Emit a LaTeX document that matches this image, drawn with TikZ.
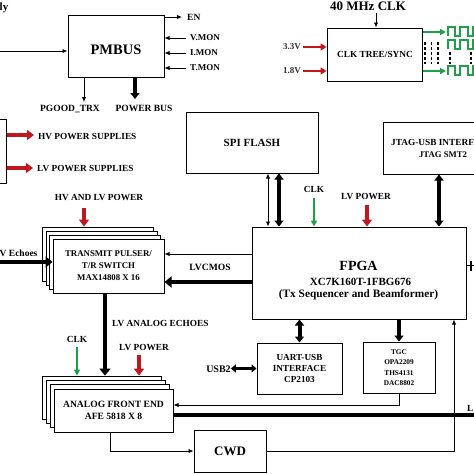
\documentclass[tikz,border=0pt]{standalone}
\usepackage{fontspec}
\setmainfont{Liberation Serif}
\usetikzlibrary{arrows.meta}
\definecolor{refred}{RGB}{192,24,32}
\definecolor{refgreen}{RGB}{30,160,72}
\begin{document}
\begin{tikzpicture}[x=1pt,y=-1pt,
  box/.style={draw, line width=1pt, fill=white, inner sep=0pt},
  lbl/.style={inner sep=0pt, font=\bfseries\fontsize{9.3}{12}\selectfont, align=center},
  arr/.style={line width=0.9pt, -{Latex[length=5pt,width=4.5pt]}},
  darr/.style={line width=0.9pt, {Latex[length=5pt,width=4.5pt]}-{Latex[length=5pt,width=4.5pt]}},
  tarr/.style={line width=4.5pt, -{Triangle[length=7pt,width=11pt]}},
  tdarr/.style={line width=4pt, {Triangle[length=6pt,width=9pt]}-{Triangle[length=6pt,width=9pt]}},
  redarr/.style={draw=refred, line width=4pt, -{Triangle[length=7pt,width=10pt]}},
  redthin/.style={draw=refred, line width=1.8pt, -{Triangle[length=6pt,width=7pt]}},
  grnarr/.style={draw=refgreen, line width=1.6pt, -{Triangle[length=6pt,width=6pt]}},
  wave/.style={draw=refgreen, line width=1.6pt},
  dsh/.style={line width=1.6pt, dash pattern=on 3pt off 2pt}]
\useasboundingbox (0,0) rectangle (474,474);

% ---- top left
\node[lbl, anchor=west, font=\bfseries\fontsize{11}{12}\selectfont] (ly) at (-0.5,8) {ly};
\node[box, minimum width=96pt, minimum height=62pt] (pmbus) at (116,46) {};
\node[lbl, font=\bfseries\fontsize{14.5}{16}\selectfont] (pmbust) at (116,50) {PMBUS};
\coordinate (pmin) at (0,51);
\draw[arr] (pmin) -- (pmin -| pmbus.west);

\coordinate (en) at (182,17);
\draw[arr] (en -| pmbus.east) -- (en);
\node[lbl, anchor=west, font=\bfseries\fontsize{9.5}{12}\selectfont] (ent) at (187,17) {EN};
\coordinate (vmon) at (186,38);
\coordinate (imon) at (186,53);
\coordinate (tmon) at (186,68);
\draw[arr] (vmon) -- (vmon -| pmbus.east);
\draw[arr] (imon) -- (imon -| pmbus.east);
\draw[arr] (tmon) -- (tmon -| pmbus.east);
\node[lbl, anchor=west, font=\bfseries\fontsize{9}{12}\selectfont] (vmont) at (190,38) {V.MON};
\node[lbl, anchor=west, font=\bfseries\fontsize{9}{12}\selectfont] (imont) at (190,53) {I.MON};
\node[lbl, anchor=west, font=\bfseries\fontsize{9}{12}\selectfont] (tmont) at (190,68) {T.MON};

\coordinate (pg) at (84,102);
\draw[arr] (pg |- pmbus.south) -- (pg);
\node[lbl, font=\bfseries\fontsize{9.5}{12}\selectfont] (pgt) at (70,109) {PGOOD\_TRX};
\coordinate (pb) at (135,99);
\draw[line width=4.5pt, -{Triangle[length=6pt,width=9pt]}] (pb |- pmbus.south) -- (pb);
\node[lbl, font=\bfseries\fontsize{9.5}{12}\selectfont] (pbt) at (144,108) {POWER BUS};

% ---- power supply box (cut off)
\node[box, minimum width=40pt, minimum height=64pt] (psu) at (-14,151) {};
\coordinate (hvps) at (34,135);
\coordinate (lvps) at (33,168);
\draw[redarr] (psu.east |- hvps) -- (hvps);
\draw[redarr] (psu.east |- lvps) -- (lvps);
\node[lbl, anchor=west, font=\bfseries\fontsize{9.3}{12}\selectfont] (hvpst) at (38,136) {HV POWER  SUPPLIES};
\node[lbl, anchor=west, font=\bfseries\fontsize{9.3}{12}\selectfont] (lvpst) at (37,168.5) {LV POWER  SUPPLIES};

% ---- clock tree
\node[box, minimum width=95pt, minimum height=53pt] (clk) at (374.5,54.5) {};
\node[lbl, font=\bfseries\fontsize{9.3}{12}\selectfont] (clkt) at (375,54) {CLK TREE/SYNC};
\node[lbl, font=\bfseries\fontsize{13}{14}\selectfont] (mhz) at (368,6) {40 MHz CLK};
\coordinate (clkin) at (376,13);
\draw[arr] (clkin) -- (clkin |- clk.north);
\node[lbl, anchor=east, text=black!80, font=\bfseries\fontsize{9}{12}\selectfont] (v33) at (301,47) {3.3V};
\node[lbl, anchor=east, text=black!80, font=\bfseries\fontsize{9}{12}\selectfont] (v18) at (301,71) {1.8V};
\coordinate (v33a) at (303,47);
\coordinate (v18a) at (303,71);
\draw[redthin] (v33a) -- (v33a -| clk.west);
\draw[redthin] (v18a) -- (v18a -| clk.west);
\coordinate (co1) at (446,32);
\coordinate (co2) at (446,71);
\draw[grnarr] (co1 -| clk.east) -- (co1);
\draw[grnarr] (co2 -| clk.east) -- (co2);
\draw[wave] (448,36) -- ++(0,-9) -- ++(7,0) -- ++(0,9) -- ++(5,0) -- ++(0,-9) -- ++(8,0) -- ++(0,9) -- ++(5,0) -- ++(0,-9) -- ++(8,0);
\draw[wave] (448,49) -- ++(0,-9) -- ++(7,0) -- ++(0,9) -- ++(5,0) -- ++(0,-9) -- ++(8,0) -- ++(0,9) -- ++(5,0) -- ++(0,-9) -- ++(8,0);
\draw[wave] (448,75) -- ++(0,-9) -- ++(7,0) -- ++(0,9) -- ++(5,0) -- ++(0,-9) -- ++(8,0) -- ++(0,9) -- ++(5,0) -- ++(0,-9) -- ++(8,0);
\draw[dsh] (425,42) -- (425,64);
\draw[dsh] (431.5,42) -- (431.5,64);
\draw[dsh] (438,42) -- (438,64);
\draw[dsh] (450,52) -- (450,64);
\draw[dsh] (471,52) -- (471,64);

% ---- SPI flash, JTAG
\node[box, minimum width=132pt, minimum height=61pt] (spi) at (252,142.5) {};
\node[lbl, font=\bfseries\fontsize{11}{12}\selectfont] (spit) at (252,143) {SPI FLASH};
\node[box, minimum width=117pt, minimum height=52pt] (jtag) at (441.5,148) {};
\node[lbl, anchor=west, font=\bfseries\fontsize{9.3}{12}\selectfont] (jtagt1) at (391,142.5) {JTAG-USB  INTERFACE};
\node[lbl, font=\bfseries\fontsize{8.7}{12}\selectfont] (jtagt2) at (443,154.5) {JTAG SMT2};

% ---- FPGA
\node[box, minimum width=214pt, minimum height=92pt] (fpga) at (359,273) {};
\node[lbl, font=\bfseries\fontsize{14}{16}\selectfont] (fpgat1) at (358.5,266) {FPGA};
\node[lbl, font=\bfseries\fontsize{11}{13}\selectfont] (fpgat2) at (360.5,281.5) {XC7K160T-1FBG676};
\node[lbl, font=\bfseries\fontsize{11.3}{13}\selectfont] (fpgat3) at (358.5,295) {(Tx Sequencer and Beamformer)};

\draw[darr] (spi.south -| 268,0) -- (fpga.north -| 268,0);
\draw[tdarr] (spi.south -| 279,0) -- (fpga.north -| 279,0);
\draw[tdarr] (jtag.south -| 439,0) -- (fpga.north -| 439,0);
\node[lbl, font=\bfseries\fontsize{9.3}{12}\selectfont] (clk2t) at (314,189) {CLK};
\coordinate (clk2) at (314,198);
\draw[grnarr] (clk2) -- (clk2 |- fpga.north);
\node[lbl, font=\bfseries\fontsize{9.3}{12}\selectfont] (lvp1t) at (366,196.5) {LV POWER};
\coordinate (lvp1) at (367,205);
\draw[redarr] (lvp1) -- (lvp1 |- fpga.north);
\coordinate (fstub) at (474,265);
\draw[line width=1pt] (fpga.east |- fstub) -- (fstub);
\draw[line width=2pt] (471,261) -- (471,271);

% ---- transmit pulser (stacked)
\node[box, minimum width=111pt, minimum height=54pt] (pul3) at (98,254) {};
\node[box, minimum width=111pt, minimum height=54pt] (pul2) at (101.5,258) {};
\node[box, minimum width=111pt, minimum height=54pt] (pul1) at (105,262) {};
\node[box, minimum width=111pt, minimum height=54pt] (pul) at (108.5,266) {};
\node[lbl, font=\bfseries\fontsize{8.8}{12}\selectfont] (pult) at (108.5,266) {TRANSMIT PULSER/\\T/R SWITCH\\MAX14808 X 16};
\node[lbl, font=\bfseries\fontsize{9.3}{12}\selectfont] (hvlvt) at (99,197) {HV AND LV POWER};
\coordinate (hvlv) at (84,208);
\draw[redarr] (hvlv) -- (hvlv |- pul3.north);
\node[lbl, anchor=west, font=\bfseries\fontsize{9.5}{12}\selectfont] (echt) at (-0.5,253) {V Echoes};
\coordinate (echin) at (0,262);
\draw[tarr] (echin) -- (echin -| pul.west);
\coordinate (lvc1) at (0,254);
\coordinate (lvc2) at (0,282);
\draw[arr] (fpga.west |- lvc1) -- (pul.east |- lvc1);
\draw[tarr] (fpga.west |- lvc2) -- (pul.east |- lvc2);
\node[lbl, font=\bfseries\fontsize{9.6}{12}\selectfont] (lvcmos) at (210,267.5) {LVCMOS};

% ---- analog front end (stacked)
\node[box, minimum width=119pt, minimum height=43pt] (afe3) at (101.5,397.6) {};
\node[box, minimum width=119pt, minimum height=43pt] (afe2) at (105.5,401.9) {};
\node[box, minimum width=119pt, minimum height=43pt] (afe1) at (109.5,406.2) {};
\node[box, minimum width=119pt, minimum height=43pt] (afe) at (113.5,410.5) {};
\node[lbl, font=\bfseries\fontsize{9.6}{12}\selectfont] (afet) at (113.5,410) {ANALOG FRONT END\\AFE  5818 X 8};
\draw[tarr] (pul.south -| 105,0) -- (afe3.north -| 105,0);
\node[lbl, anchor=west, font=\bfseries\fontsize{9.3}{12}\selectfont] (lvaet) at (112,323) {LV ANALOG  ECHOES};
\node[lbl, font=\bfseries\fontsize{9.3}{12}\selectfont] (clk3t) at (77,339) {CLK};
\coordinate (clk3) at (77,347);
\draw[grnarr] (clk3) -- (clk3 |- afe3.north);
\node[lbl, font=\bfseries\fontsize{9.3}{12}\selectfont] (lvp2t) at (144,347.5) {LV POWER};
\coordinate (lvp2) at (139,355);
\draw[redarr] (lvp2) -- (lvp2 |- afe3.north);

% ---- UART, TGC, CWD
\node[box, minimum width=85pt, minimum height=51pt] (uart) at (299.5,368.5) {};
\node[lbl, font=\bfseries\fontsize{9.2}{11}\selectfont] (uartt) at (299.5,368) {UART-USB\\INTERFACE\\CP2103};
\node[box, minimum width=72pt, minimum height=51pt] (tgc) at (399,367.5) {};
\node[lbl, font=\bfseries\fontsize{7.3}{10.3}\selectfont] (tgct) at (399,367.5) {TGC\\OPA2209\\THS4131\\DAC8802};
\node[box, minimum width=72pt, minimum height=42pt] (cwd) at (230,451) {};
\node[lbl, font=\bfseries\fontsize{13}{14}\selectfont] (cwdt) at (230,451) {CWD};

\draw[tdarr] (fpga.south -| uart.north) -- (uart.north);
\draw[line width=4pt, -{Triangle[length=6pt,width=9pt]}] (fpga.south -| tgc.north) -- (tgc.north);
\node[lbl, font=\bfseries\fontsize{10}{12}\selectfont] (usb2) at (218.5,369) {USB2};
\draw[line width=3pt, {Triangle[length=5pt,width=8pt]}-{Triangle[length=5pt,width=8pt]}] (usb2.east |- uart.west) -- (uart.west);

\coordinate (tg) at (0,405);
\draw[arr] (tgc.south) -- (tgc.south |- tg) -- (afe.east |- tg);
\coordinate (busend) at (474,415);
\draw[line width=4pt] (afe.east |- busend) -- (busend);
\node[lbl, anchor=west, font=\bfseries\fontsize{9.3}{12}\selectfont] (lt) at (467,408) {L};
\coordinate (cw) at (454,451);
\draw[arr] (cwd.east) -- (cw) -- (fpga.south -| cw);
\coordinate (ac) at (110,0);
\draw[arr] (afe.south -| ac) |- (cwd.west);
\end{tikzpicture}
\end{document}
